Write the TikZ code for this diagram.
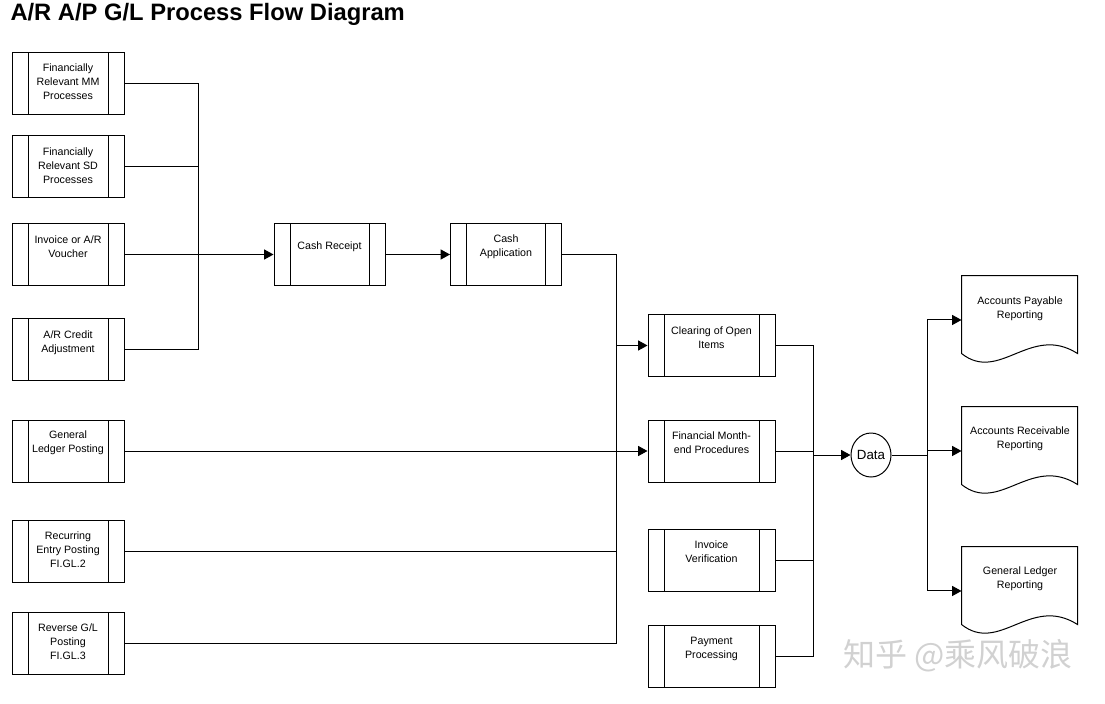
\documentclass[tikz,border=0pt]{standalone}
\usepackage{fontspec}
\setmainfont{Liberation Sans}
\newfontfamily\cjkfont{Noto Sans CJK SC}
\usetikzlibrary{arrows.meta,shapes.geometric,positioning}

% document shape with a wavy bottom edge
\newcommand\docshape[1]{%
  \draw (#1.south west) -- (#1.north west) -- (#1.north east) -- (#1.south east)
    .. controls +(-47,-30) and +(38,30) .. (#1.south west);}

\begin{document}
\begin{tikzpicture}[x=0.75pt,y=-0.75pt,line width=0.75pt,
  proc/.style={draw, minimum width=#1, minimum height=46.5pt, inner sep=0pt,
    path picture={\draw[line width=0.6pt]
      ([xshift=12pt]path picture bounding box.north west) -- ([xshift=12pt]path picture bounding box.south west)
      ([xshift=-12pt]path picture bounding box.north east) -- ([xshift=-12pt]path picture bounding box.south east);}},
  proc/.default=84pt,
  lbl/.style={align=center, font=\fontsize{8}{10.5}\selectfont, inner sep=0pt},
  doc/.style={minimum width=86.25pt, minimum height=57.75pt, inner sep=0pt},
  arr/.style={-{Triangle[length=7pt,width=7.5pt]}}]
  \useasboundingbox (0,0) rectangle (1105,703);
  % Title
  \node[anchor=base west, inner sep=0pt, font=\bfseries\fontsize{17.8}{20}\selectfont] (title) at (10,20) {A/R A/P G/L Process Flow Diagram};
  % Left column: source processes
  \node[proc] (mm) at (68,83) {};     \node[lbl] (mmt) at (68,82) {Financially\\Relevant MM\\Processes};
  \node[proc] (sd) at (68,166) {};    \node[lbl] (sdt) at (68,166) {Financially\\Relevant SD\\Processes};
  \node[proc] (inv) at (68,254.5) {}; \node[lbl] (invt) at (68,247) {Invoice or A/R\\Voucher};
  \node[proc] (cred) at (68,349.5) {};\node[lbl] (credt) at (68,343) {A/R Credit\\Adjustment};
  \node[proc] (glp) at (68,451) {};   \node[lbl] (glpt) at (68,443) {General\\Ledger Posting};
  \node[proc] (rec) at (68,551) {};   \node[lbl] (rect) at (68,550) {Recurring\\Entry Posting\\FI.GL.2};
  \node[proc] (rev) at (68,643) {};   \node[lbl] (revt) at (68,642) {Reverse G/L\\Posting\\FI.GL.3};
  % Cash steps
  \node[proc=83.25pt] (cr) at (329.5,254.5) {}; \node[lbl] (crt) at (329.5,247) {Cash Receipt};
  \node[proc=83.25pt] (ca) at (506,254.5) {};   \node[lbl] (cat) at (506,247) {Cash\\Application};
  % Middle column
  \node[proc=95.25pt] (clr) at (711.5,345.5) {}; \node[lbl] (clrt) at (711.5,338) {Clearing of Open\\Items};
  \node[proc=95.25pt] (mend) at (711.5,451) {};  \node[lbl] (mendt) at (711.5,443) {Financial Month-\\end Procedures};
  \node[proc=95.25pt] (iv) at (711.5,560) {};    \node[lbl] (ivt) at (711.5,552) {Invoice\\Verification};
  \node[proc=95.25pt] (pay) at (711.5,656.5) {}; \node[lbl] (payt) at (711.5,648.5) {Payment\\Processing};
  % Data and reports
  \node[draw, ellipse, minimum width=30pt, minimum height=33pt, inner sep=0pt, font=\fontsize{10}{12}\selectfont] (data) at (871,455) {Data};
  \node[doc] (ap) at (1019.5,314.5) {}; \docshape{ap} \node[lbl] (apt) at (1020,309) {Accounts Payable\\Reporting};
  \node[doc] (ar) at (1019.5,445.5) {}; \docshape{ar} \node[lbl] (art) at (1020,439) {Accounts Receivable\\Reporting};
  \node[doc] (gl) at (1019.5,585.5) {}; \docshape{gl} \node[lbl] (glt) at (1020,579) {General Ledger\\Reporting};
  % Connectors
  \coordinate (jl) at (198,254.5);
  \coordinate (jm) at (616,345.5);
  \coordinate (jr) at (813,455);
  \coordinate (jd) at (927,455);
  \draw (mm.east) -| (jl);
  \draw (sd.east) -| (jl);
  \draw (cred.east) -| (jl);
  \draw[arr] (inv.east) -- (cr.west);
  \draw[arr] (cr.east) -- (ca.west);
  \draw (ca.east) -| (jm);
  \draw (rec.east) -| (jm);
  \draw (rev.east) -| (jm);
  \draw[arr] (jm) -- (clr.west);
  \draw[arr] (glp.east) -- (mend.west);
  \draw (clr.east) -| (jr);
  \draw (mend.east) -| (jr);
  \draw (iv.east) -| (jr);
  \draw (pay.east) -| (jr);
  \draw[arr] (jr) -- (data.west);
  \draw (data.east) -- (jd);
  \draw[arr] (jd) |- ([yshift=-4.1pt]ap.west);
  \draw[arr] (jd) |- ([yshift=-4.1pt]ar.west);
  \draw[arr] (jd) |- ([yshift=-4.1pt]gl.west);
  % Watermark
  \node[text=black!18, font=\cjkfont\fontsize{24}{24}\selectfont] (wm) at (958,656) {知乎 @乘风破浪};
\end{tikzpicture}
\end{document}
